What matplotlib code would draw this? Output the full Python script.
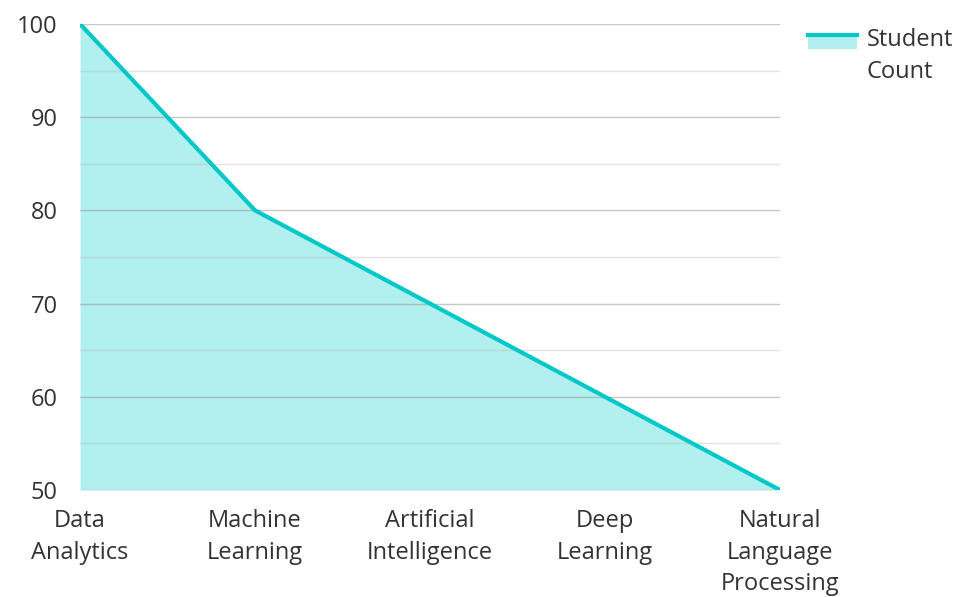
import matplotlib
matplotlib.use('Agg')
import matplotlib.pyplot as plt
import matplotlib.patches as patches
from matplotlib.lines import Line2D
from matplotlib.legend_handler import HandlerBase

plt.rcParams['font.family'] = ['Open Sans', 'DejaVu Sans']

courses = ['Data\nAnalytics', 'Machine\nLearning', 'Artificial\nIntelligence',
           'Deep\nLearning', 'Natural\nLanguage\nProcessing']
student_count = [100, 80, 70, 60, 50]

line_color = '#00C8C8'
fill_color = '#B2EFEF'


class AreaHandler(HandlerBase):
    # fill box with the line along its top edge, lifted to sit beside the first text line
    def create_artists(self, legend, orig_handle, xdescent, ydescent,
                       width, height, fontsize, trans):
        lift = 0.62 * fontsize
        y0 = -ydescent + lift
        box = patches.Rectangle((-xdescent, y0), width, height,
                                facecolor=fill_color, edgecolor='none',
                                transform=trans)
        top = Line2D([-xdescent, -xdescent + width],
                     [y0 + height, y0 + height],
                     color=line_color, linewidth=3, transform=trans)
        return [box, top]


fig = plt.figure(figsize=(9.62, 5.97), dpi=100)
ax = fig.add_axes([0.0832, 0.1792, 0.7276, 0.7806])

x = list(range(len(courses)))
ax.fill_between(x, student_count, 50, color=fill_color, zorder=1, linewidth=0)
ax.plot(x, student_count, color=line_color, linewidth=3, zorder=4,
        solid_capstyle='butt')

ax.set_xlim(0, len(courses) - 1)
ax.set_ylim(50, 100)

# major grid every 10, lighter minor every 5, drawn over the fill
for v in range(50, 101, 10):
    ax.axhline(v, color='#999999', linewidth=1, alpha=0.55, zorder=2)
for v in range(55, 100, 10):
    ax.axhline(v, color='#bbbbbb', linewidth=1, alpha=0.4, zorder=2)

ax.set_yticks(range(50, 101, 10))
ax.set_xticks(x)
ax.set_xticklabels(courses, linespacing=1.4)
ax.tick_params(axis='both', length=0, labelsize=17, colors='#333333')
ax.tick_params(axis='x', pad=14)
ax.tick_params(axis='y', pad=16)
for s in ax.spines.values():
    s.set_visible(False)

handle = patches.Rectangle((0, 0), 1, 1)
fig.legend([handle], ['Student\nCount'], handler_map={patches.Rectangle: AreaHandler()},
           loc='upper left', bbox_to_anchor=(0.8225, 0.98), frameon=False,
           fontsize=17, handlelength=2.1, handleheight=0.55, handletextpad=0.4,
           labelcolor='#333333', borderpad=0.2)
for t in fig.legends[0].get_texts():
    t.set_linespacing(1.4)

plt.savefig('out.png', dpi=100)
